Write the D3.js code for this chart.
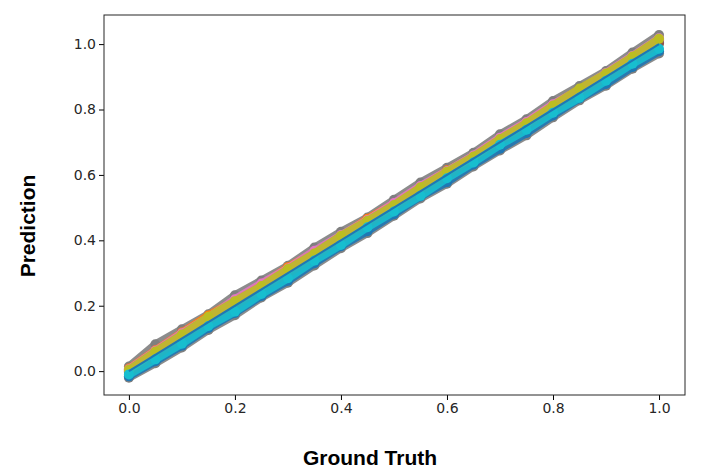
<!DOCTYPE html>
<html><head><meta charset="utf-8">
<script src="https://cdn.jsdelivr.net/npm/d3@7"></script>
<style>body{margin:0;background:#fff}</style>
</head><body><svg id="c" width="703" height="476"></svg>
<script>
// ground truth positions shared by all runs
var truth = [0, 0.05, 0.1, 0.15, 0.2, 0.25, 0.3, 0.35, 0.4, 0.45, 0.5, 0.55, 0.6, 0.65, 0.7, 0.75, 0.8, 0.85, 0.9, 0.95, 1.0];
// prediction minus truth, in thousandths, per run
var runColors = ["#7f7f7f", "#7f7f7f", "#1f77b4", "#ff7f0e", "#2ca02c", "#d62728", "#9467bd", "#8c564b", "#e377c2", "#bcbd22", "#17becf"];
var offsets = [
  [14, 32, 28, 24, 32, 27, 22, 28, 26, 20, 24, 27, 22, 18, 24, 20, 26, 22, 18, 24, 28],
  [-20, -26, -28, -24, -29, -25, -30, -27, -24, -28, -25, -22, -27, -24, -25, -29, -24, -22, -27, -25, -29],
  [-16, -20, -22, -18, -22, -20, -24, -20, -18, -22, -20, -16, -22, -18, -20, -22, -18, -16, -22, -20, -22],
  [8, 14, 18, 20, 16, 12, 18, 14, 10, 16, 12, 10, 14, 8, 12, 10, 14, 12, 8, 10, 12],
  [4, 10, 14, 12, 18, 8, 10, 16, 12, 8, 10, 6, 12, 10, 6, 8, 10, 6, 10, 8, 14],
  [2, 6, 10, 8, 12, 14, 6, 8, 10, 4, 6, 8, 4, 6, 8, 4, 6, 8, 4, 6, 10],
  [0, 4, 8, 10, 6, 10, 12, 6, 4, 8, 2, 6, 8, 4, 2, 6, 4, 2, 6, 4, 6],
  [-6, -4, 2, 4, 0, 2, -2, 0, 4, -2, 0, 2, -4, 0, 2, -2, 0, 2, -2, 0, 2],
  [6, 12, 16, 14, 20, 18, 14, 18, 16, 12, 14, 16, 12, 10, 14, 12, 16, 10, 12, 14, 18],
  [4, 10, 12, 16, 14, 10, 12, 10, 14, 10, 8, 12, 10, 6, 10, 8, 12, 14, 10, 12, 16],
  [-10, -14, -16, -12, -18, -14, -16, -12, -14, -10, -12, -14, -10, -12, -8, -12, -10, -14, -12, -10, -14]
];
var xTicks = [0, 0.2, 0.4, 0.6, 0.8, 1.0];
var yTicks = [0, 0.2, 0.4, 0.6, 0.8, 1.0];

var svg = d3.select("#c");
var L = 104, R = 685, T = 15, B = 395;
var x = d3.scaleLinear().domain([-0.047, 1.049]).range([L, R]);
var y = d3.scaleLinear().domain([-0.073, 1.089]).range([B, T]);

var g = svg.append("g");
var line = d3.line().x(function(d){return x(d[0]);}).y(function(d){return y(d[1]);});

offsets.forEach(function(off, i) {
  var pts = truth.map(function(t, j){ return [t, t + off[j] / 1000]; });
  g.append("path").datum(pts).attr("d", line).attr("fill", "none")
    .attr("stroke", runColors[i]).attr("stroke-width", 8).attr("stroke-linecap", "round").attr("opacity", 0.9);
  g.selectAll(null).data(pts).enter().append("circle")
    .attr("cx", function(d){return x(d[0]);}).attr("cy", function(d){return y(d[1]);})
    .attr("r", 5).attr("fill", runColors[i]);
});
// identity reference line
g.append("path").datum([[0, 0], [1, 1]]).attr("d", line)
  .attr("stroke", "#1f77b4").attr("stroke-width", 2).attr("fill", "none");

svg.append("g").attr("transform", "translate(0," + B + ")")
  .call(d3.axisBottom(x).tickValues(xTicks).tickFormat(d3.format(".1f")).tickSize(5));
svg.append("g").attr("transform", "translate(" + L + ",0)")
  .call(d3.axisLeft(y).tickValues(yTicks).tickFormat(d3.format(".1f")).tickSize(5));
svg.selectAll(".tick text").attr("font-family", "DejaVu Sans").attr("font-size", 14).attr("fill", "#262626");
svg.selectAll(".domain").remove();
svg.append("rect").attr("x", L).attr("y", T).attr("width", R - L).attr("height", B - T)
  .attr("fill", "none").attr("stroke", "#262626").attr("stroke-width", 1);

svg.append("text").attr("x", 370).attr("y", 465).attr("text-anchor", "middle")
  .attr("font-family", "Liberation Sans").attr("font-weight", "bold").attr("font-size", 21).text("Ground Truth");
svg.append("text").attr("transform", "translate(35,226) rotate(-90)").attr("text-anchor", "middle")
  .attr("font-family", "Liberation Sans").attr("font-weight", "bold").attr("font-size", 21).text("Prediction");
</script></body></html>
